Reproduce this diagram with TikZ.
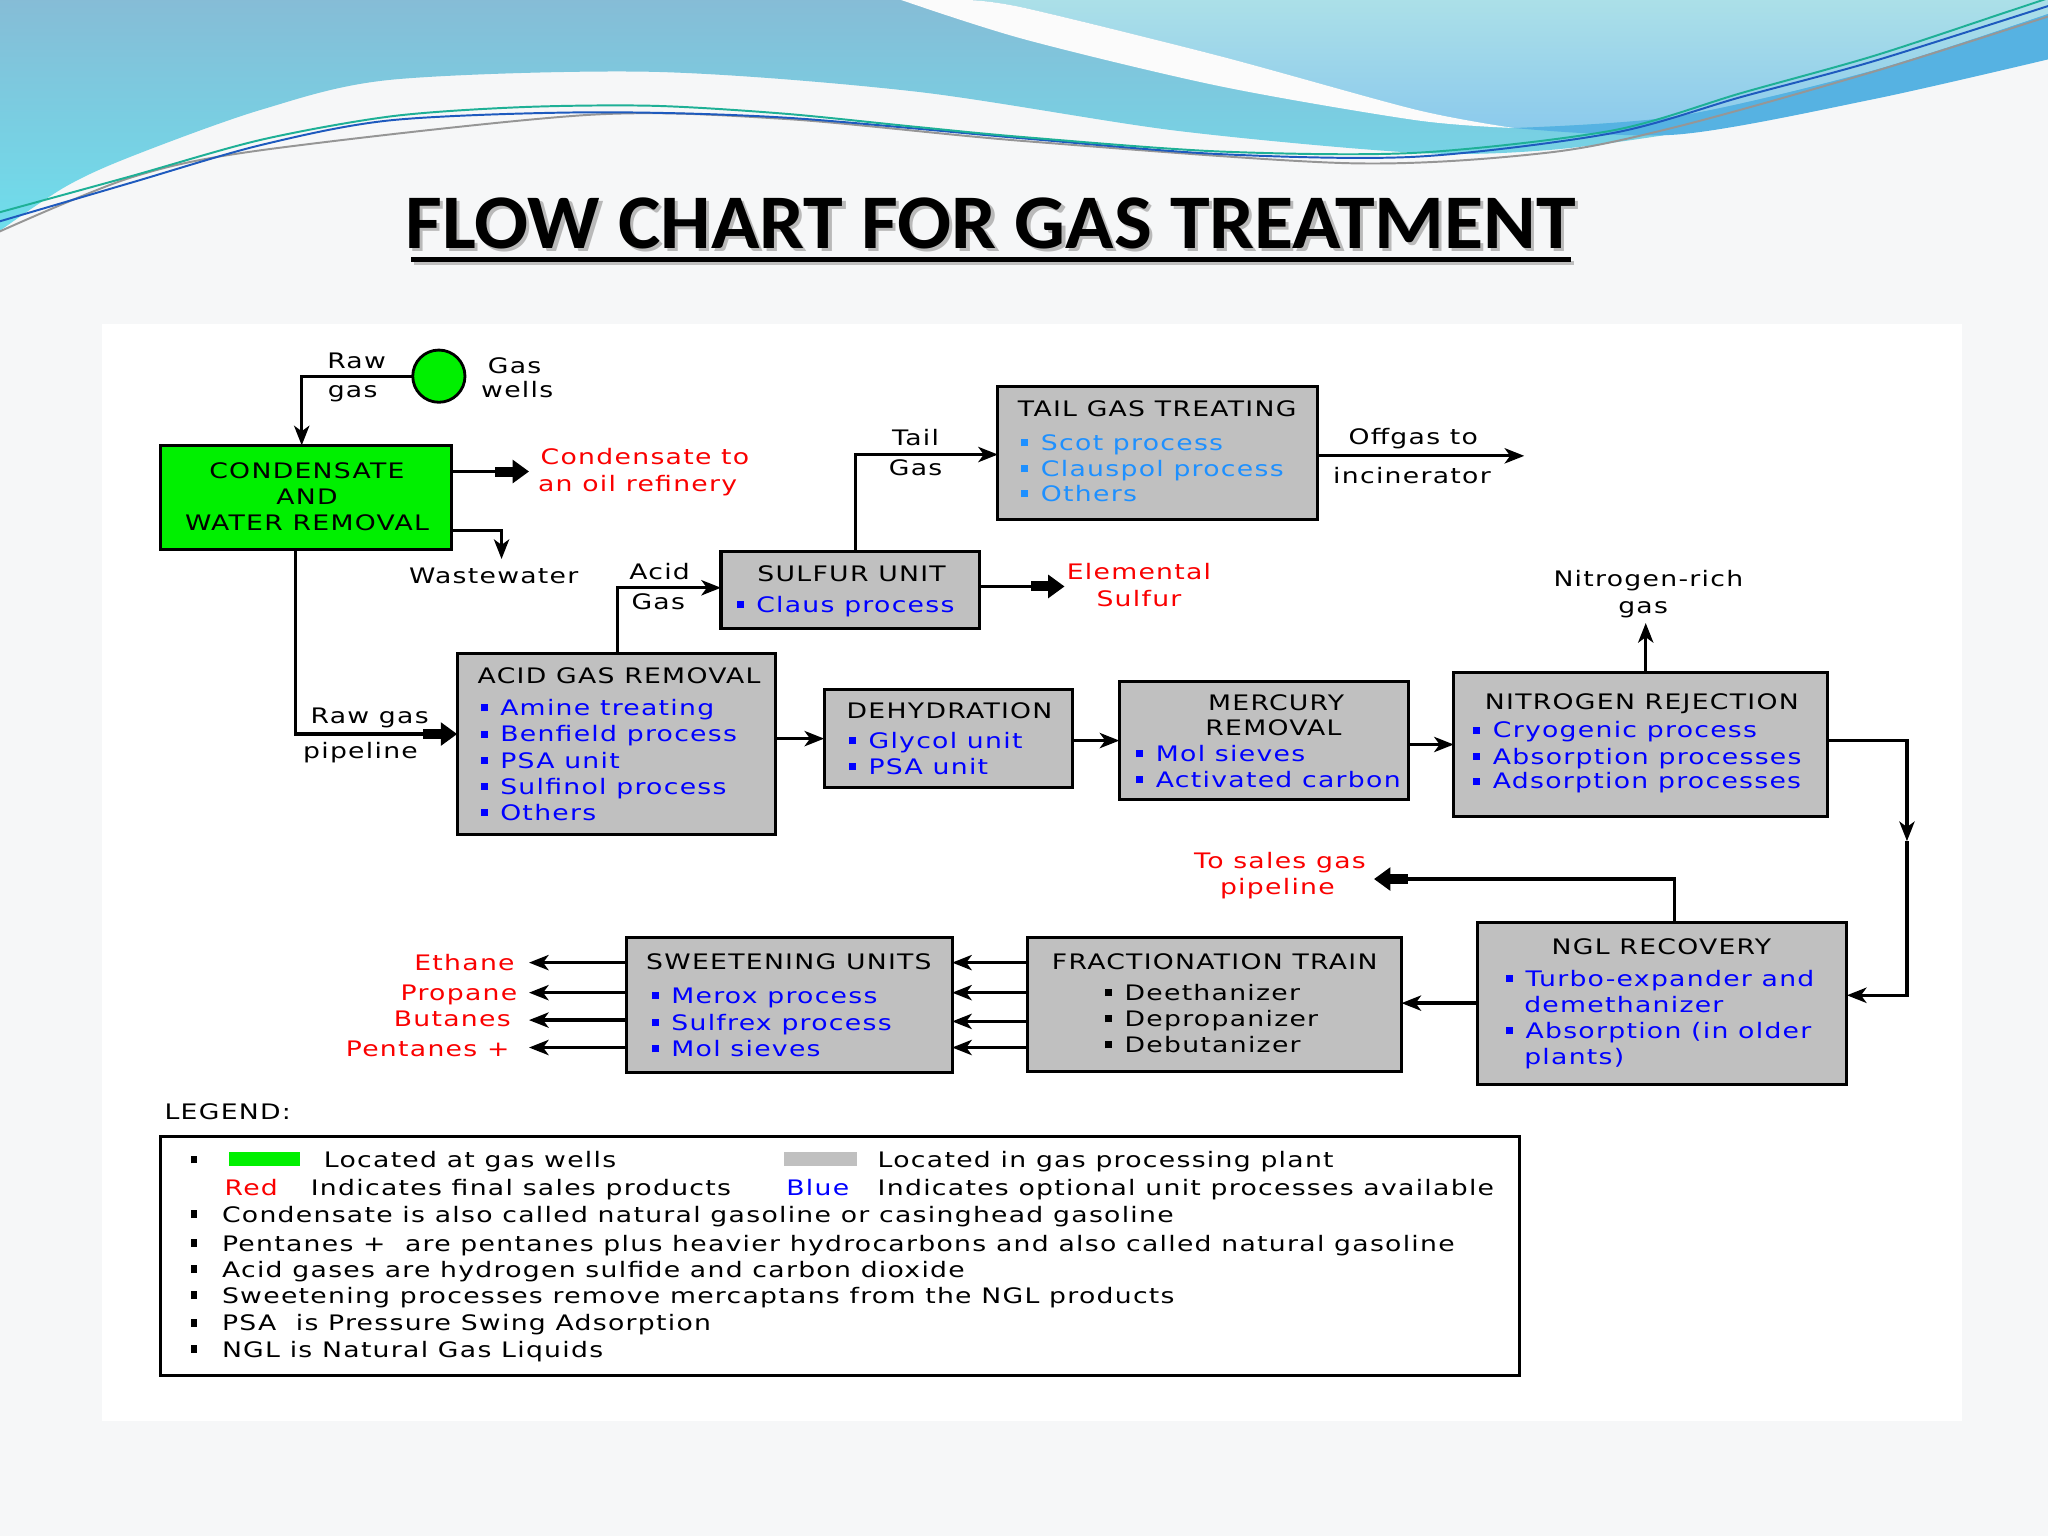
\documentclass[tikz,border=0pt]{standalone}
\usepackage{fontspec}
\usetikzlibrary{arrows.meta,fit}
\newfontfamily\dg{DejaVu Sans}[FakeStretch=1.25,LetterSpace=6]
\newfontfamily\ttl{Carlito}
\definecolor{boxgray}{RGB}{192,192,192}
\definecolor{wgreen}{RGB}{0,240,0}
\definecolor{pblue}{RGB}{0,0,255}
\definecolor{lblue}{RGB}{30,144,255}
\definecolor{pred}{RGB}{250,0,0}
\definecolor{bgc}{RGB}{246,247,248}
\definecolor{skyA}{RGB}{134,188,214}
\definecolor{skyB}{RGB}{110,222,236}
\definecolor{skyC}{RGB}{172,224,232}
\definecolor{skyD}{RGB}{140,202,236}
\definecolor{bandB}{RGB}{86,178,226}
\definecolor{lnteal}{RGB}{30,176,150}
\definecolor{lnblue}{RGB}{30,90,190}
\definecolor{lngray}{RGB}{150,150,150}
\newcommand\bul{\makebox[9pt][l]{\raisebox{2pt}{\rule{3.2pt}{3.2pt}}}}
\newcommand\lbul{\makebox[14.4pt][l]{\raisebox{2pt}{\rule{3pt}{3.6pt}}}}
\tikzset{
  every node/.style={font=\dg\fontsize{9.8}{12}\selectfont, inner sep=0pt, outer sep=0pt},
  tc/.style={anchor=base, yshift=-3.6pt},
  tl/.style={anchor=base west, yshift=-3.6pt},
  tr/.style={anchor=base east, yshift=-3.6pt},
  gbox/.style={draw, line width=1.4pt, fill=boxgray},
  grbox/.style={draw, line width=1.4pt, fill=wgreen},
  ln/.style={line width=1.5pt},
  arr/.style={ln, -{Stealth[length=9pt,width=7pt,inset=2.5pt]}},
  barr/.style={ln, -{Rectangle[length=8pt,width=4.6pt]Triangle[length=7.5pt,width=10.5pt]}},
}
\begin{document}
\begin{tikzpicture}[x=0.6pt,y=-0.6pt]
\useasboundingbox (0,0) rectangle (1568,1176);
\clip (0,0) rectangle (1568,1176);
% ---------- background ----------
\fill[bgc] (0,0) rectangle (1568,1176);
\fill[white] (78,248) rectangle (1502,1088);
\shade[top color=skyA, bottom color=skyB] (0,-2) -- (1570,-2) --
  plot[smooth] coordinates {(1570,41) (1484,64) (1384,84) (1284,102) (1184,115) (1084,117) (900,100) (700,70) (500,55) (300,61) (200,84) (100,120) (50,143) (-2,178)} -- cycle;
\shade[top color=skyC, bottom color=skyD] (740,-2) --
  plot[smooth] coordinates {(740,0) (784,6) (934,43) (1084,84) (1159,98)} --
  plot[smooth] coordinates {(1159,98) (1284,89) (1434,54) (1570,10)} -- (1570,-2) -- cycle;
\fill[white!97!gray] (690,-2) --
  plot[smooth] coordinates {(690,0) (784,30) (934,66) (1084,92) (1159,98)} --
  plot[smooth] coordinates {(1159,98) (1084,84) (934,43) (784,6) (740,0)} -- (740,-2) -- cycle;
\fill[bandB] plot[smooth] coordinates {(1159,98) (1284,89) (1434,54) (1570,10)} --
  plot[smooth] coordinates {(1570,45) (1434,76) (1284,103) (1159,98)} -- cycle;
\draw[lngray, line width=0.9pt] plot[smooth] coordinates {(-2,178) (100,136) (200,115) (450,88) (600,91) (784,108) (1034,125) (1184,117) (1284,97) (1434,55) (1570,12)};
\draw[lnblue, line width=0.9pt] plot[smooth] coordinates {(-2,170) (100,140) (200,111) (300,92) (450,86) (600,90) (784,106) (934,118) (1084,120) (1234,102) (1334,74) (1434,47) (1570,4)};
\draw[lnteal, line width=0.9pt] plot[smooth] coordinates {(-2,163) (100,135) (200,107) (300,89) (400,82) (500,81) (600,87) (700,97) (784,105) (934,116) (1084,117) (1234,100) (1334,71) (1434,43) (1534,10) (1570,-2)};
% ---------- title ----------
\node[anchor=base, text=gray!55, font=\ttl\bfseries\fontsize{35.5}{40}\selectfont, xscale=1.035] (titleshadow) at (761,192.5) {FLOW CHART FOR GAS TREATMENT};
\node[anchor=base, font=\ttl\bfseries\fontsize{35.5}{40}\selectfont, xscale=1.035] (title) at (758.5,190) {FLOW CHART FOR GAS TREATMENT};
\draw[line width=2.1pt, gray!50] (317,201.5) -- (1205,201.5);
\draw[line width=2.1pt] (315,198.5) -- (1203,198.5);
% ---------- boxes ----------
\node[circle, draw, line width=1.3pt, fill=wgreen, minimum size=24pt] (wells) at (336,288) {};
\node[grbox, fit={(123,341) (346,421)}] (cwr) {};
\node[gbox, fit={(350,500) (594,639)}] (agr) {};
\node[gbox, fit={(552,422) (750,481)}] (sul) {};
\node[gbox, fit={(764,296) (1009,398)}] (tgt) {};
\node[gbox, fit={(631,528) (821,603)}] (dehy) {};
\node[gbox, fit={(857,522) (1078,612)}] (merc) {};
\node[gbox, fit={(1113,515) (1399,625)}] (nit) {};
\node[gbox, fit={(1131,706) (1414,830)}] (ngl) {};
\node[gbox, fit={(787,718) (1073,820)}] (frac) {};
\node[gbox, fit={(480,718) (729,821)}] (swt) {};
\node[draw, line width=1.4pt, fit={(123,870) (1163,1053)}] (leg) {};
% ---------- coordinates ----------
\coordinate (c1) at (231,288);
\coordinate (c2) at (405,361);
\coordinate (c3) at (384,406);
\coordinate (c3e) at (384,428);
\coordinate (c4) at (226,562);
\coordinate (c5) at (473,450);
\coordinate (c6) at (815,449);
\coordinate (c7) at (655,348);
\coordinate (c8) at (1167,349);
\coordinate (c12) at (1260,477);
\coordinate (c13a) at (1460,567);
\coordinate (c13b) at (1460,644);
\coordinate (c13c) at (1460,762);
\coordinate (c14a) at (1282,673);
\coordinate (c14b) at (1052,673);
\coordinate (c15) at (1100,768);
\coordinate (f1) at (760,737);
\coordinate (f2) at (760,760);
\coordinate (f3) at (760,782);
\coordinate (f4) at (760,802);
\coordinate (p1) at (405,737);
\coordinate (p2) at (405,760);
\coordinate (p3) at (405,781);
\coordinate (p4) at (405,802);
% ---------- connectors ----------
\draw[arr] (wells.west) -- (c1) -- (c1 |- cwr.north);
\draw[barr] (c2 -| cwr.east) -- (c2);
\draw[arr] (c3 -| cwr.east) -- (c3) -- (c3e);
\draw[barr] (c4 |- cwr.south) -- (c4) -- (c4 -| agr.west);
\draw[arr] (c5 |- agr.north) -- (c5) -- (c5 -| sul.west);
\draw[barr] (c6 -| sul.east) -- (c6);
\draw[arr] (c7 |- sul.north) -- (c7) -- (c7 -| tgt.west);
\draw[arr] (c8 -| tgt.east) -- (c8);
\draw[arr] (agr.east |- dehy.west) -- (dehy.west);
\draw[arr] (dehy.east |- merc.west) -- (merc.west);
\draw[arr] (merc.east |- nit.west) -- (nit.west);
\draw[arr] (c12 |- nit.north) -- (c12);
\draw[arr] (c13a -| nit.east) -- (c13a) -- (c13b);
\draw[arr] (c13b) -- (c13c) -- (c13c -| ngl.east);
\draw[barr] (c14a |- ngl.north) -- (c14a) -- (c14b);
\draw[arr] (c15 -| ngl.west) -- (c15 -| frac.east);
\foreach \f in {f1,f2,f3,f4} \draw[arr] (\f -| frac.west) -- (\f -| swt.east);
\foreach \p in {p1,p2,p3,p4} \draw[arr] (\p -| swt.west) -- (\p);
% ---------- texts ----------
\node[tc] (tRaw) at (273,276) {Raw};
\node[tc] (tRawgas) at (270,298) {gas};
\node[tc] (tGas) at (394,280) {Gas};
\node[tc] (tWells) at (396,298) {wells};
\node[tc] (cwr1) at (235,360) {CONDENSATE};
\node[tc] (cwr2) at (235,380) {AND};
\node[tc] (cwr3) at (235,400) {WATER REMOVAL};
\node[tl, text=pred] (tCond1) at (414,350) {Condensate to};
\node[tl, text=pred] (tCond2) at (412,370) {an oil refinery};
\node[tc] (tWaste) at (378,441) {Wastewater};
\node[tc] (tRg1) at (283,548) {Raw gas};
\node[tc] (tRg2) at (276,575) {pipeline};
\node[tc] (agrT) at (474,517) {ACID GAS REMOVAL};
\node[tl, text=pblue] (agr1) at (368,542) {\bul Amine treating};
\node[tl, text=pblue] (agr2) at (368,562) {\bul Benfield process};
\node[tl, text=pblue] (agr3) at (368,582) {\bul PSA unit};
\node[tl, text=pblue] (agr4) at (368,602) {\bul Sulfinol process};
\node[tl, text=pblue] (agr5) at (368,622) {\bul Others};
\node[tc] (tAcid) at (505,438) {Acid};
\node[tc] (tAcidGas) at (504,461) {Gas};
\node[tc] (sulT) at (652,439) {SULFUR UNIT};
\node[tl, text=pblue] (sul1) at (564,463) {\bul Claus process};
\node[tc, text=pred] (tElem1) at (872,438) {Elemental};
\node[tc, text=pred] (tElem2) at (872,458) {Sulfur};
\node[tc] (tTail1) at (701,335) {Tail};
\node[tc] (tTail2) at (701,358) {Gas};
\node[tc] (tgtT) at (886,313) {TAIL GAS TREATING};
\node[tl, text=lblue] (tgt1) at (782,339) {\bul Scot process};
\node[tl, text=lblue] (tgt2) at (782,359) {\bul Clauspol process};
\node[tl, text=lblue] (tgt3) at (782,378) {\bul Others};
\node[tc] (tOff1) at (1082,334) {Offgas to};
\node[tc] (tOff2) at (1081,364) {incinerator};
\node[tc] (dehyT) at (727,544) {DEHYDRATION};
\node[tl, text=pblue] (dehy1) at (650,567) {\bul Glycol unit};
\node[tl, text=pblue] (dehy2) at (650,587) {\bul PSA unit};
\node[tc] (mercT1) at (977,538) {MERCURY};
\node[tc] (mercT2) at (975,557) {REMOVAL};
\node[tl, text=pblue] (merc1) at (870,577) {\bul Mol sieves};
\node[tl, text=pblue] (merc2) at (870,597) {\bul Activated carbon};
\node[tc] (nitT) at (1257,537) {NITROGEN REJECTION};
\node[tl, text=pblue] (nit1) at (1128,559) {\bul Cryogenic process};
\node[tl, text=pblue] (nit2) at (1128,579) {\bul Absorption processes};
\node[tl, text=pblue] (nit3) at (1128,598) {\bul Adsorption processes};
\node[tc] (tN1) at (1262,443) {Nitrogen-rich};
\node[tc] (tN2) at (1258,464) {gas};
\node[tc] (nglT) at (1272,725) {NGL RECOVERY};
\node[tl, text=pblue] (ngl1) at (1153,749) {\bul Turbo-expander and};
\node[tl, text=pblue] (ngl2) at (1167,769) {demethanizer};
\node[tl, text=pblue] (ngl3) at (1153,789) {\bul Absorption (in older};
\node[tl, text=pblue] (ngl4) at (1167,809) {plants)};
\node[tc, text=pred] (tSales1) at (980,659) {To sales gas};
\node[tc, text=pred] (tSales2) at (978,679) {pipeline};
\node[tc] (fracT) at (930,736) {FRACTIONATION TRAIN};
\node[tl] (frac1) at (846,760) {\bul Deethanizer};
\node[tl] (frac2) at (846,780) {\bul Depropanizer};
\node[tl] (frac3) at (846,800) {\bul Debutanizer};
\node[tc] (swtT) at (604,736) {SWEETENING UNITS};
\node[tl, text=pblue] (swt1) at (499,762) {\bul Merox process};
\node[tl, text=pblue] (swt2) at (499,783) {\bul Sulfrex process};
\node[tl, text=pblue] (swt3) at (499,803) {\bul Mol sieves};
\node[tr, text=pred] (pr1) at (394,737) {Ethane};
\node[tr, text=pred] (pr2) at (396,760) {Propane};
\node[tr, text=pred] (pr3) at (391,780) {Butanes};
\node[tr, text=pred] (pr4) at (390,803) {Pentanes +};
% ---------- legend ----------
\node[tl] (legT) at (126,851) {LEGEND:};
\node[tl] (lgb1) at (146,888) {\lbul};
\node[fill=wgreen, fit={(175,882) (230,893)}] (swG) {};
\node[tl] (lg1) at (248,888) {Located at gas wells};
\node[fill=boxgray, fit={(600,882) (656,893)}] (swY) {};
\node[tl] (lg2) at (672,888) {Located in gas processing plant};
\node[tl, text=pred] (lgRed) at (172,909) {Red};
\node[tl] (lg3) at (238,909) {Indicates final sales products};
\node[tl, text=pblue] (lgBlue) at (602,909) {Blue};
\node[tl] (lg4) at (672,909) {Indicates optional unit processes available};
\node[tl] (lg5) at (146,930) {\lbul Condensate is also called natural gasoline or casinghead gasoline};
\node[tl] (lg6) at (146,952) {\lbul Pentanes +\ \ are pentanes plus heavier hydrocarbons and also called natural gasoline};
\node[tl] (lg7) at (146,972) {\lbul Acid gases are hydrogen sulfide and carbon dioxide};
\node[tl] (lg8) at (146,992) {\lbul Sweetening processes remove mercaptans from the NGL products};
\node[tl] (lg9) at (146,1013) {\lbul PSA\ \ is Pressure Swing Adsorption};
\node[tl] (lg10) at (146,1033) {\lbul NGL is Natural Gas Liquids};
\end{tikzpicture}
\end{document}
